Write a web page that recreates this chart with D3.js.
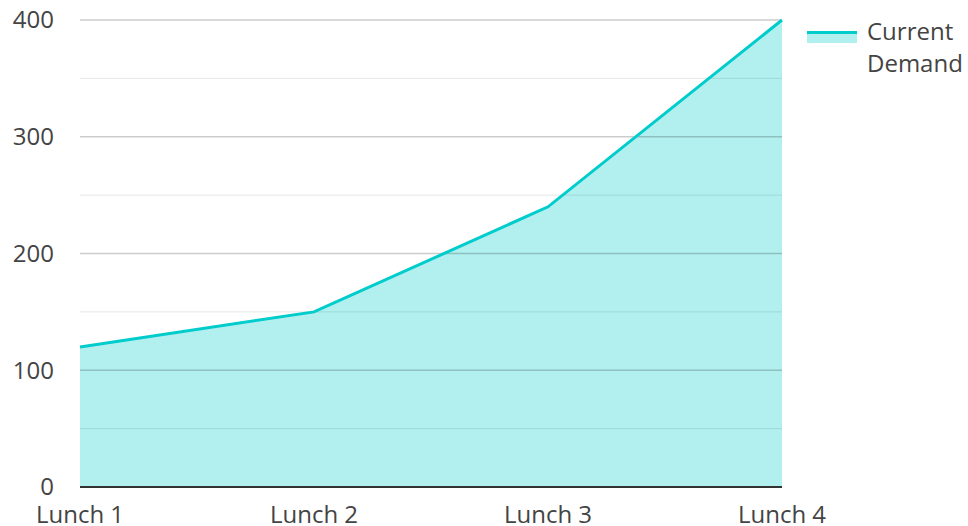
<!doctype html>
<html>
<head>
<style>
  body { margin: 0; background: #fff; }
  text { font-family: "Open Sans", sans-serif; fill: #444; }
</style>
<script src="https://d3js.org/d3.v7.min.js"></script>
</head>
<body>
<svg width="968" height="526"></svg>
<script>
var categories = ["Lunch 1", "Lunch 2", "Lunch 3", "Lunch 4"];
var demand = [120, 150, 240, 400];
var yTicks = [0, 100, 200, 300, 400];
var yMinor = [50, 150, 250, 350];
var seriesName = ["Current", "Demand"];

var svg = d3.select("svg"),
    plotLeft = 80, plotRight = 782, plotTop = 20, plotBottom = 487,
    color = "#00cccc",
    fontSize = "24px";

var x = d3.scalePoint().domain(categories).range([plotLeft, plotRight]);
var y = d3.scaleLinear().domain([0, 400]).range([plotBottom, plotTop]);

var data = categories.map(function(c, i) { return { cat: c, v: demand[i] }; });

// area first, grid over it
svg.append("path")
   .datum(data)
   .attr("d", d3.area().x(function(d) { return x(d.cat); }).y0(y(0)).y1(function(d) { return y(d.v); }))
   .attr("fill", color)
   .attr("fill-opacity", 0.3);

svg.selectAll(".minor").data(yMinor).enter().append("line")
   .attr("x1", plotLeft).attr("x2", plotRight)
   .attr("y1", function(d) { return y(d); }).attr("y2", function(d) { return y(d); })
   .attr("stroke", "#000").attr("stroke-opacity", 0.1).attr("stroke-width", 1);

svg.selectAll(".major").data(yTicks.slice(1)).enter().append("line")
   .attr("x1", plotLeft).attr("x2", plotRight)
   .attr("y1", function(d) { return y(d); }).attr("y2", function(d) { return y(d); })
   .attr("stroke", "#000").attr("stroke-opacity", 0.2).attr("stroke-width", 1.5);

svg.append("line")
   .attr("x1", plotLeft).attr("x2", plotRight)
   .attr("y1", y(0)).attr("y2", y(0))
   .attr("stroke", "#333").attr("stroke-width", 2);

svg.append("path")
   .datum(data)
   .attr("d", d3.line().x(function(d) { return x(d.cat); }).y(function(d) { return y(d.v); }))
   .attr("fill", "none")
   .attr("stroke", color)
   .attr("stroke-width", 3);

svg.selectAll(".ylab").data(yTicks).enter().append("text")
   .attr("x", 54).attr("y", function(d) { return y(d); })
   .attr("dy", "0.35em")
   .attr("text-anchor", "end")
   .style("font-size", fontSize)
   .text(function(d) { return d; });

svg.selectAll(".xlab").data(categories).enter().append("text")
   .attr("x", function(d) { return x(d); }).attr("y", 515)
   .attr("dy", "0.35em")
   .attr("text-anchor", "middle")
   .style("font-size", fontSize)
   .text(function(d) { return d; });

// legend
svg.append("rect").attr("x", 807).attr("y", 31).attr("width", 50).attr("height", 12)
   .attr("fill", color).attr("fill-opacity", 0.3);
svg.append("line").attr("x1", 807).attr("x2", 857).attr("y1", 32.5).attr("y2", 32.5)
   .attr("stroke", color).attr("stroke-width", 3);
svg.selectAll(".leg").data(seriesName).enter().append("text")
   .attr("x", 867).attr("y", function(d, i) { return 32 + i * 32; })
   .attr("dy", "0.35em")
   .style("font-size", fontSize)
   .text(function(d) { return d; });
</script>
</body>
</html>
